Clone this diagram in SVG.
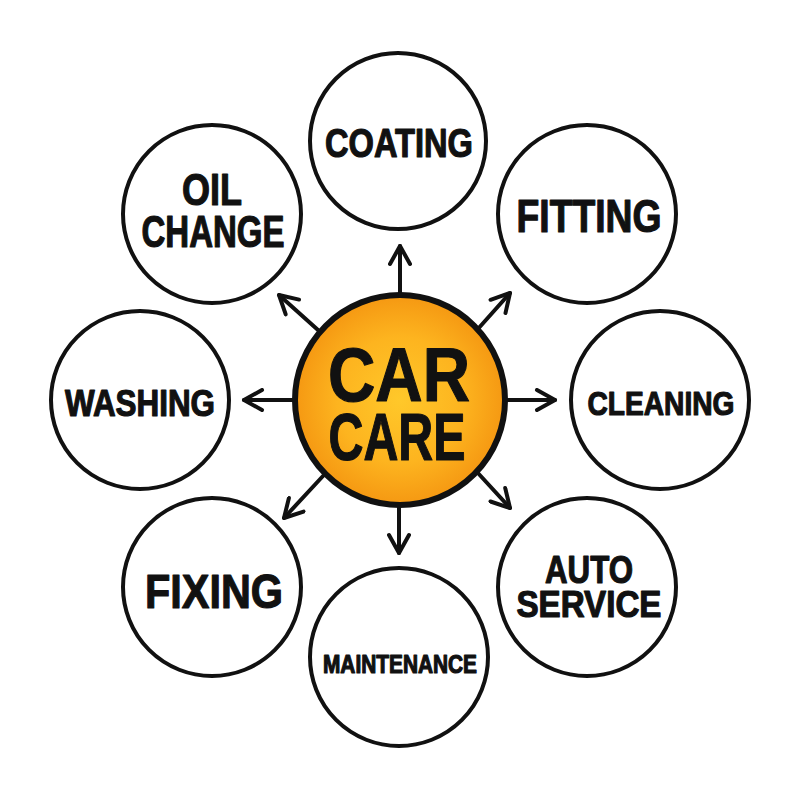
<svg xmlns="http://www.w3.org/2000/svg" width="800" height="800" viewBox="0 0 800 800">
  <style>
    .node { fill: #ffffff; stroke: #111111; stroke-width: 4; }
    .hub { fill: url(#hubGrad); stroke: #111111; stroke-width: 6; }
    .lbl { font-family: "Liberation Sans", Arial, sans-serif; font-weight: bold; fill: #111111; stroke: #111111; stroke-width: 1.2; stroke-linejoin: round; text-anchor: middle; }
    .conn { stroke: #111111; stroke-width: 4; stroke-linecap: round; fill: none; marker-end: url(#chev); }
  </style>
  <defs>
    <radialGradient id="hubGrad" cx="50%" cy="50%" r="50%">
      <stop offset="0%" stop-color="#FFC82A"/>
      <stop offset="60%" stop-color="#FDB41F"/>
      <stop offset="100%" stop-color="#F59812"/>
    </radialGradient>
    <marker id="chev" viewBox="0 0 24 24" refX="21" refY="12" markerWidth="24" markerHeight="24" markerUnits="userSpaceOnUse" orient="auto">
      <path d="M3,2 L21,12 L3,22" fill="none" stroke="#111111" stroke-width="4" stroke-linecap="round" stroke-linejoin="round"/>
    </marker>
  </defs>
  <rect width="800" height="800" fill="#ffffff"/>

  <g id="connectors">
    <line class="conn" x1="400" y1="295" x2="400" y2="246"/>
    <line class="conn" x1="477" y1="330" x2="510" y2="293"/>
    <line class="conn" x1="506" y1="400" x2="555" y2="400"/>
    <line class="conn" x1="477" y1="472" x2="510" y2="508"/>
    <line class="conn" x1="399" y1="506" x2="399" y2="553"/>
    <line class="conn" x1="323" y1="476" x2="284" y2="518"/>
    <line class="conn" x1="294" y1="400" x2="244" y2="400"/>
    <line class="conn" x1="318" y1="330" x2="279" y2="295"/>
  </g>

  <g id="node-coating">
    <circle class="node" cx="398" cy="141" r="88"/>
    <text class="lbl" x="399" y="157" font-size="40" textLength="148" lengthAdjust="spacingAndGlyphs">COATING</text>
  </g>
  <g id="node-fitting">
    <circle class="node" cx="587" cy="214" r="89"/>
    <text class="lbl" x="589" y="232" font-size="46" textLength="145" lengthAdjust="spacingAndGlyphs">FITTING</text>
  </g>
  <g id="node-cleaning">
    <circle class="node" cx="660" cy="400" r="89"/>
    <text class="lbl" x="661" y="415" font-size="34" textLength="147" lengthAdjust="spacingAndGlyphs">CLEANING</text>
  </g>
  <g id="node-auto-service">
    <circle class="node" cx="587" cy="587" r="89"/>
    <text class="lbl" x="589" y="583" font-size="38" textLength="88" lengthAdjust="spacingAndGlyphs">AUTO</text>
    <text class="lbl" x="589" y="617" font-size="37" textLength="145" lengthAdjust="spacingAndGlyphs">SERVICE</text>
  </g>
  <g id="node-maintenance">
    <circle class="node" cx="399" cy="657" r="89"/>
    <text class="lbl" x="400" y="673" font-size="25" textLength="154" lengthAdjust="spacingAndGlyphs">MAINTENANCE</text>
  </g>
  <g id="node-fixing">
    <circle class="node" cx="212" cy="587" r="89"/>
    <text class="lbl" x="214" y="608" font-size="49" textLength="138" lengthAdjust="spacingAndGlyphs">FIXING</text>
  </g>
  <g id="node-washing">
    <circle class="node" cx="140" cy="400" r="89"/>
    <text class="lbl" x="140" y="416" font-size="37" textLength="150" lengthAdjust="spacingAndGlyphs">WASHING</text>
  </g>
  <g id="node-oil-change">
    <circle class="node" cx="212" cy="214" r="89"/>
    <text class="lbl" x="212" y="205" font-size="44" textLength="60" lengthAdjust="spacingAndGlyphs">OIL</text>
    <text class="lbl" x="213" y="247" font-size="44" textLength="143" lengthAdjust="spacingAndGlyphs">CHANGE</text>
  </g>

  <g id="node-car-care">
    <circle class="hub" cx="400" cy="400" r="105"/>
    <text class="lbl" x="399" y="401" font-size="76" stroke-width="2.5" textLength="142" lengthAdjust="spacingAndGlyphs">CAR</text>
    <text class="lbl" x="397" y="460" font-size="66" stroke-width="2.5" textLength="137" lengthAdjust="spacingAndGlyphs">CARE</text>
  </g>
</svg>
